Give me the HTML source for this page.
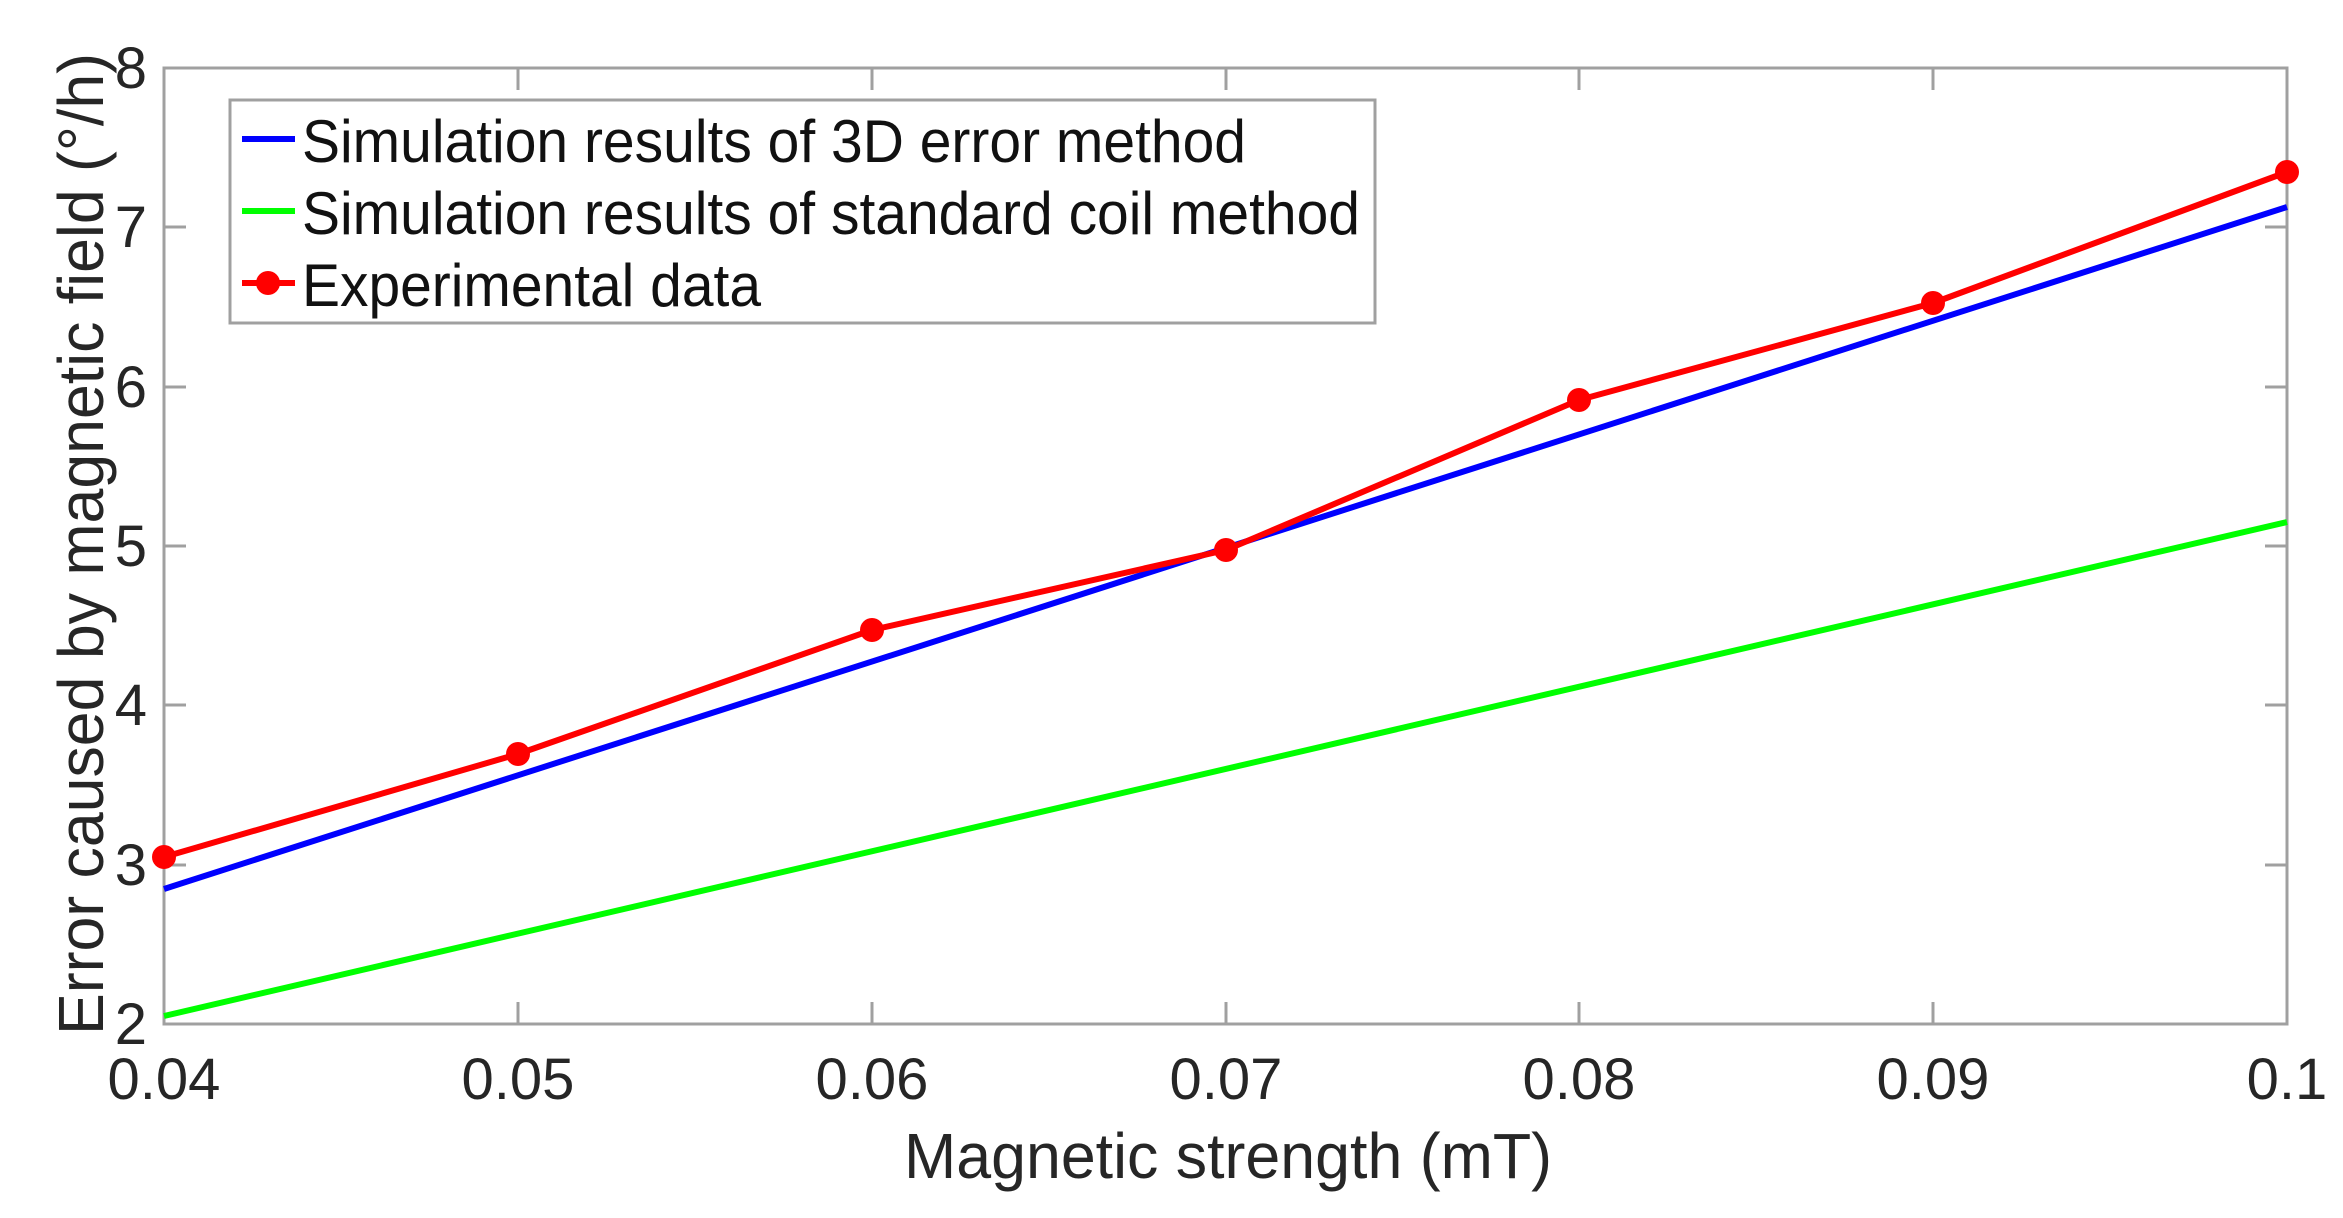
<!DOCTYPE html>
<html><head><meta charset="utf-8"><style>
html,body{margin:0;padding:0;background:#fff;}
svg{display:block;font-family:"Liberation Sans",Arial,sans-serif;}
</style></head><body>
<svg width="2343" height="1218" viewBox="0 0 2343 1218" xmlns="http://www.w3.org/2000/svg">
<rect width="2343" height="1218" fill="#fff"/>
<g stroke="#a0a0a0" stroke-width="3" fill="none">
<rect x="164" y="68" width="2123" height="956"/>
<path d="M518 1024v-22M872 1024v-22M1226 1024v-22M1579 1024v-22M1933 1024v-22
M518 68v22M872 68v22M1226 68v22M1579 68v22M1933 68v22"/>
<path d="M164 227h22M164 387h22M164 546h22M164 705h22M164 865h22
M2287 227h-22M2287 387h-22M2287 546h-22M2287 705h-22M2287 865h-22"/>
</g>
<g fill="#262626" font-size="58" text-anchor="end">
<text x="147" y="88">8</text>
<text x="147" y="247">7</text>
<text x="147" y="407">6</text>
<text x="147" y="566">5</text>
<text x="147" y="725">4</text>
<text x="147" y="885">3</text>
<text x="147" y="1044">2</text>
</g>
<g fill="#262626" font-size="58" text-anchor="middle">
<text x="164" y="1099">0.04</text>
<text x="518" y="1099">0.05</text>
<text x="872" y="1099">0.06</text>
<text x="1226" y="1099">0.07</text>
<text x="1579" y="1099">0.08</text>
<text x="1933" y="1099">0.09</text>
<text x="2287" y="1099">0.1</text>
</g>
<g fill="#262626" font-size="64">
<text x="904" y="1178" textLength="648" lengthAdjust="spacingAndGlyphs">Magnetic strength (mT)</text>
<text transform="translate(103,1035) rotate(-90)" textLength="982" lengthAdjust="spacingAndGlyphs">Error caused by magnetic field (°/h)</text>
</g>
<g fill="none" stroke-width="6" stroke-linejoin="round">
<polyline stroke="#00ff00" points="164,1016 2287,522"/>
<polyline stroke="#0000ff" points="164,889 2287,207"/>
<polyline stroke="#ff0000" points="164,857 518,754 872,630 1226,550 1579,400 1933,303 2287,172"/>
</g>
<g fill="#ff0000">
<circle cx="164" cy="857" r="12"/><circle cx="518" cy="754" r="12"/><circle cx="872" cy="630" r="12"/>
<circle cx="1226" cy="550" r="12"/><circle cx="1579" cy="400" r="12"/><circle cx="1933" cy="303" r="12"/>
<circle cx="2287" cy="172" r="12"/>
</g>
<rect x="230" y="100" width="1145" height="223" fill="#fff" stroke="#a0a0a0" stroke-width="3"/>
<g stroke-width="6">
<line x1="242" y1="139" x2="295" y2="139" stroke="#0000ff"/>
<line x1="242" y1="211" x2="295" y2="211" stroke="#00ff00"/>
<line x1="242" y1="283" x2="295" y2="283" stroke="#ff0000"/>
</g>
<circle cx="268" cy="283" r="12" fill="#ff0000"/>
<g fill="#111" font-size="60">
<text x="302" y="162" textLength="944" lengthAdjust="spacingAndGlyphs">Simulation results of 3D error method</text>
<text x="302" y="234" textLength="1058" lengthAdjust="spacingAndGlyphs">Simulation results of standard coil method</text>
<text x="302" y="306" textLength="459" lengthAdjust="spacingAndGlyphs">Experimental data</text>
</g>
</svg>
</body></html>
